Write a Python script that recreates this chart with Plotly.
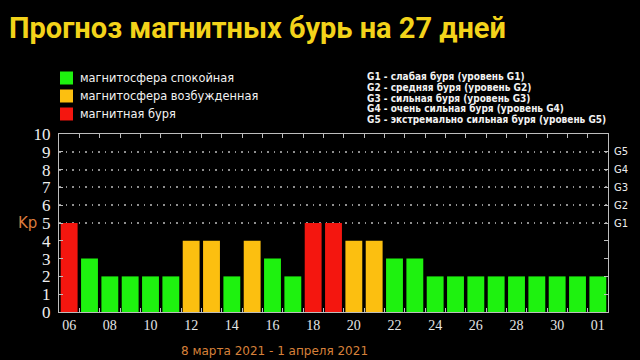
import plotly.graph_objects as go

# ---- data ----
days = ["06", "07", "08", "09", "10", "11", "12", "13", "14", "15", "16", "17", "18",
        "19", "20", "21", "22", "23", "24", "25", "26", "27", "28", "29", "30", "31", "01"]
kp = [5, 3, 2, 2, 2, 2, 4, 4, 2, 4, 3, 2, 5, 5, 4, 4, 3, 3, 2, 2, 2, 2, 2, 2, 2, 2, 2]
level_names = ["магнитосфера спокойная", "магнитосфера возбужденная", "магнитная буря"]
level_colors = ["#1ef20f", "#fcbf10", "#f4160f"]
g_levels = [5, 6, 7, 8, 9]
g_labels = ["G1", "G2", "G3", "G4", "G5"]
g_desc = [
    "G1 - слабая буря (уровень G1)",
    "G2 - средняя буря (уровень G2)",
    "G3 - сильная буря (уровень G3)",
    "G4 - очень сильная буря (уровень G4)",
    "G5 - экстремально сильная буря (уровень G5)",
]
title = "Прогноз магнитных бурь на 27 дней"
subtitle = "8 марта 2021 - 1 апреля 2021"

# ---- geometry helpers (pixel -> paper) ----
W, H = 640, 360
L, R, T, B = 59, 608, 134, 312


def px(x):
    return (x - L) / (R - L)


def py(y):
    return (B - y) / (B - T)


def level_of(v):
    if v >= 5:
        return 2
    if v >= 4:
        return 1
    return 0


idx = list(range(len(days)))
fig = go.Figure()
for li in range(3):
    ys = [v if level_of(v) == li else None for v in kp]
    fig.add_trace(go.Bar(x=idx, y=ys, marker=dict(color=level_colors[li], line=dict(width=0)),
                         showlegend=False, hoverinfo="skip"))

axis_col = "#bdbdbd"
fig.update_layout(
    width=W, height=H,
    margin=dict(l=L, r=W - R, t=T, b=H - B, pad=0),
    paper_bgcolor="black", plot_bgcolor="black",
    barmode="overlay", bargap=0.17,
    showlegend=False,
    xaxis=dict(range=[-0.5, len(days) - 0.5], tickmode="array",
               tickvals=idx[::2], ticktext=days[::2], ticks="",
               showline=True, linecolor=axis_col, linewidth=1, mirror=True,
               showgrid=False, zeroline=False,
               tickfont=dict(family="Liberation Serif", size=14, color="#e6e6e6")),
    xaxis2=dict(range=[-0.5, len(days) - 0.5], overlaying="x", side="top",
                tickmode="array", tickvals=[i + 0.5 for i in idx[:-1]],
                ticks="inside", ticklen=4, tickcolor=axis_col, showticklabels=False,
                showline=False, mirror="ticks", showgrid=False, zeroline=False),
    yaxis=dict(range=[0, 10], tickmode="linear", dtick=1, tick0=0,
               ticks="inside", ticklen=4, tickcolor=axis_col,
               showline=True, linecolor=axis_col, linewidth=1, mirror="ticks",
               showgrid=False, zeroline=False, ticklabelstandoff=4,
               tickfont=dict(family="Liberation Serif", size=17, color="#eeeeee")),
    yaxis2=dict(range=[0, 10], overlaying="y", side="right", tickmode="array",
                tickvals=g_levels, ticktext=g_labels, ticks="",
                showgrid=True, gridcolor="#8f8f8f", gridwidth=1.5, griddash="1.5px,5px",
                zeroline=False, showline=False, ticklabelstandoff=5,
                tickfont=dict(family="DejaVu Sans", size=10, color="#eeeeee")),
)
fig.add_trace(go.Scatter(x=[0], y=[0], xaxis="x2", yaxis="y2", mode="markers",
                         marker=dict(opacity=0), showlegend=False, hoverinfo="skip"))

ann = []
ann.append(dict(text="<b>" + title + "</b>", x=px(7), y=py(28), xref="paper", yref="paper",
                xanchor="left", yanchor="middle", showarrow=False,
                font=dict(family="Roboto", size=29, color="#f3d31a")))
ann.append(dict(text="Kp", x=px(27), y=5, xref="paper", yref="y",
                xanchor="center", yanchor="middle", showarrow=False,
                font=dict(family="DejaVu Sans", size=15, color="#d97b3c")))
ann.append(dict(text=subtitle, x=px(274), y=py(351), xref="paper", yref="paper",
                xanchor="center", yanchor="middle", showarrow=False,
                font=dict(family="DejaVu Sans", size=12, color="#d7803a")))

shapes = []
for i, (name, col) in enumerate(zip(level_names, level_colors)):
    cy = 78 + 18 * i
    shapes.append(dict(type="rect", xref="paper", yref="paper",
                       x0=px(60), x1=px(73), y0=py(cy - 6.5), y1=py(cy + 6.5),
                       fillcolor=col, line=dict(width=0)))
    ann.append(dict(text=name, x=px(78), y=py(cy), xref="paper", yref="paper",
                    xanchor="left", yanchor="middle", showarrow=False,
                    font=dict(family="DejaVu Sans", size=11.4, color="#f2f2f2")))

for i, t in enumerate(g_desc):
    cy = 76.5 + 10.8 * i
    ann.append(dict(text="<b>" + t + "</b>", x=px(365), y=py(cy), xref="paper", yref="paper",
                    xanchor="left", yanchor="middle", showarrow=False,
                    font=dict(family="DejaVu Sans Condensed", size=10, color="#f2f2f2")))

fig.update_layout(annotations=ann, shapes=shapes)
fig.write_html("out.html", config={"displayModeBar": False},
               post_script="document.body.style.margin='0';")
